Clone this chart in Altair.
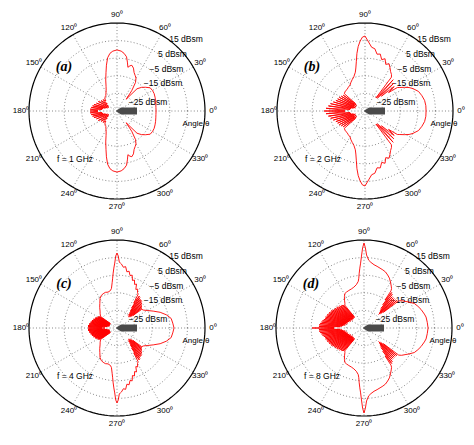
import altair as alt
import pandas as pd

# ---------------- data ----------------
panel_ids = ["a", "b", "c", "d"]
panel_tags = ["(a)", "(b)", "(c)", "(d)"]
freq_labels = ["f = 1 GHz", "f = 2 GHz", "f = 4 GHz", "f = 8 GHz"]

ring_db = [-25, -15, -5, 5, 15]
ring_labels = ["\u221225 dBsm", "\u221215 dBsm", "\u22125 dBsm", "5 dBsm", "15 dBsm"]

spoke_deg = [0, 30, 60, 90, 120, 150, 180, 210, 240, 270, 300, 330]
spoke_labels = ["0\u2070", "30\u2070", "60\u2070", "90\u2070", "120\u2070", "150\u2070",
                "180\u2070", "210\u2070", "240\u2070", "270\u2070", "300\u2070", "330\u2070"]

# RCS half patterns (0..180 deg), dBsm; lower half is the mirror image
a_theta = [0, 5, 10, 15, 20, 25, 30, 35, 40, 44, 48, 50, 52, 54, 57, 60, 63, 66, 69, 72, 74, 76, 78, 80, 83, 86,
           90, 94, 97, 100, 103, 106, 110, 114, 118, 122, 126, 130, 135,
           138, 141, 144, 147, 150, 153, 156, 159, 162, 164, 166, 168, 170, 172, 174, 176, 178, 180]
a_db = [-12.8, -12.8, -12.6, -12.3, -12.0, -11.7, -11.7, -12.0, -14.0, -15.7, -18.0, -23.6, -26.5, -20.8, -15.7,
        -13.4, -12.3, -11.1, -8.9, -7.7, -8.3, -9.4, -6.6, -3.75, -2.0, -0.9,
        -0.3, -0.9, -2.0, -4.3, -8.3, -12.3, -16.3, -19.7, -21.9, -23.1, -24.2, -24.5, -25.3,
        -26.5, -24.8, -28.2, -24.2, -29.3, -23.1, -29.9, -22.5, -29.3, -21.4, -28.2, -20.8, -27.0, -20.2,
        -26.5, -19.7, -24.2, -19.7]

b_theta = [0, 5, 10, 15, 20, 25, 28, 31, 34, 36, 38, 40, 42, 44, 46, 48, 50, 52, 54, 57, 60, 63, 66, 69, 72, 75,
           78, 81, 84, 87, 90, 92, 94, 96, 98, 100, 102, 104, 108, 112, 116, 120, 125, 130, 135, 140,
           142, 144, 146, 148, 150, 152, 154, 156, 158, 160, 162, 164, 166, 168, 170, 172, 174, 176, 178, 180]
b_db = [-0.3, -0.3, -0.6, -1.5, -2.6, -4.9, -6.6, -8.9, -11.1, -12.3, -18.0, -13.4, -22.5, -12.3, -24.8, -11.1,
        -25.3, -10.6, -9.4, -8.3, -6.6, -4.9, -6.0, -3.2, -4.3, -1.5,
        -2.0, 0.8, 1.4, 4.2, 7.6, 7.0, 4.8, 1.9, -2.0, -6.6, -10.0, -12.3, -14.5, -15.7, -16.8, -18.0, -18.5,
        -19.1, -19.1, -19.7,
        -28.2, -19.7, -29.3, -19.1, -28.2, -18.5, -29.3, -18.0, -28.2, -17.4, -29.3, -16.3, -28.2, -15.1,
        -27.0, -14.0, -26.5, -12.8, -23.6, -11.7]

c_theta = [0, 5, 10, 15, 20, 25, 30, 34, 37,
           38, 39, 40, 41, 42, 43, 44, 45, 46, 47, 48, 49, 50, 51, 52, 53, 54, 55, 56, 58,
           60, 62, 64, 66, 68, 70, 72, 74, 76, 78, 80, 82, 84, 86, 87, 88, 89, 90, 91, 92, 93, 94, 95, 96, 98,
           100, 104, 108, 112, 116, 120, 125, 130, 135, 140, 145,
           146, 147, 148, 149, 150, 151, 152, 153, 154, 155, 156, 157, 158, 159, 160, 161, 162, 163, 164, 165,
           166, 167, 168, 169, 170, 171, 172, 173, 174, 175, 176, 177, 178, 179, 180]
c_db = [-2.6, -3.2, -3.75, -6.0, -8.9, -12.3, -15.1, -16.8, -17.4,
        -23.6, -16.8, -24.8, -16.3, -25.3, -15.7, -25.9, -15.1, -24.8, -14.5, -25.3, -14.0, -23.6, -14.0,
        -22.5, -13.4, -20.8, -12.8, -18.0, -12.3,
        -11.7, -10.0, -10.6, -7.7, -8.3, -6.0, -6.6, -3.75, -4.3, -2.0, -2.6, 0.2, -0.3, 1.4, 1.9, 2.5, 5.9,
        7.6, 5.9, 1.9, -0.9, -3.75, -6.6, -8.9, -12.3,
        -13.4, -14.0, -13.7, -14.0, -14.5, -15.7, -18.0, -19.7, -21.4, -22.5, -23.6,
        -30.5, -23.1, -29.3, -22.5, -30.5, -22.5, -29.9, -21.9, -30.5, -21.4, -29.3, -21.4, -30.5, -20.8,
        -29.9, -20.8, -30.5, -20.2, -29.3, -20.2, -30.5, -19.7, -29.9, -19.7, -28.2, -19.1, -29.3, -19.1,
        -27.0, -18.5, -28.2, -18.5, -26.5, -19.1, -18.5]

d_theta = [0, 5, 10, 13, 18, 22, 26, 30, 33, 36, 38,
           39, 40, 41, 42, 43, 44, 45, 46, 47, 48, 49, 50, 51, 52, 53, 54, 55, 57,
           60, 63, 66, 69, 72, 75, 78, 81, 84, 86, 88, 89, 90, 91, 92, 93, 94, 95, 96, 97,
           100, 104, 108, 112, 116, 119, 122, 125, 128, 130,
           131, 132, 133, 134, 135, 136, 137, 138, 139, 140, 141, 142, 143, 144, 145, 146, 147, 148, 149, 150,
           151, 152, 153, 154, 155, 156, 157, 158, 159, 160, 161, 162, 163, 164, 165, 166, 167, 168, 169, 170,
           171, 172, 173, 174, 175, 176, 177, 178, 179, 180]
d_db = [1.4, 1.1, 0.8, 0.2, -0.9, -2.0, -3.2, -5.5, -7.2, -8.6, -10.0,
        -20.8, -10.6, -22.5, -11.1, -23.6, -11.1, -22.5, -11.1, -21.4, -11.1, -20.2, -10.0, -18.0, -9.4,
        -15.1, -8.9, -7.7, -6.6,
        -4.9, -3.2, -2.0, -0.9, -0.3, 0.2, 0.8, 1.4, 2.5, 3.6, 6.5, 10.5, 13.3, 10.5, 5.9, 1.9, -0.9, -3.75,
        -6.6, -8.3,
        -10.0, -11.1, -11.7, -12.0, -12.3, -12.6, -14.0, -15.7, -17.4, -18.0,
        -26.5, -17.4, -27.0, -16.8, -26.5, -16.8, -27.0, -16.3, -26.5, -16.3, -27.0, -15.7, -26.5, -15.7,
        -27.0, -15.1, -25.9, -15.1, -26.5, -14.5, -25.9, -14.0, -26.5, -14.0, -25.3, -13.4, -25.9, -13.4,
        -25.3, -12.8, -24.8, -12.8, -25.3, -12.3, -24.2, -12.3, -24.8, -11.7, -23.6, -11.1, -24.2, -10.6,
        -23.1, -10.0, -22.5, -9.4, -21.4, -9.4, -18.0, -5.5]

curves = {"a": (a_theta, a_db), "b": (b_theta, b_db), "c": (c_theta, c_db), "d": (d_theta, d_db)}

# ---------------- layout constants ----------------
R_PX = 88.0          # radius of outer ring (15 dBsm) in pixels
DB_CENTER = -35.0
DB_OUTER = 15.0
CX = "datum.panel === 'a' ? 117 : datum.panel === 'b' ? 365 : datum.panel === 'c' ? 117 : 364"
CY = "(datum.panel === 'a' || datum.panel === 'b') ? 111 : 328"
RR = f"max(0, (datum.db - ({DB_CENTER})) / {DB_OUTER - DB_CENTER} * {R_PX})"
PX = "datum.cx + datum.rr * cos(datum.theta * PI / 180)"
PY = "datum.cy - datum.rr * sin(datum.theta * PI / 180)"

XS = alt.X("x:Q", scale=alt.Scale(domain=[8, 466], nice=False, zero=False), axis=None)
YS = alt.Y("y:Q", scale=alt.Scale(domain=[8, 437], nice=False, zero=False, reverse=True), axis=None)

# ---------------- tables ----------------
rows = []
for p in panel_ids:
    th, db = curves[p]
    n = len(th)
    for i, (t, v) in enumerate(zip(th, db)):
        rows.append({"panel": p, "order": i, "theta": t, "db": v})
    for j, (t, v) in enumerate(zip(th[::-1], db[::-1])):
        rows.append({"panel": p, "order": n + j, "theta": 360 - t, "db": v})
curve_df = pd.DataFrame(rows)

ring_rows = []
for p in panel_ids:
    for rv in ring_db:
        for k, t in enumerate(range(0, 362, 2)):
            ring_rows.append({"panel": p, "key": f"{p}{rv}", "ring": rv, "order": k, "theta": t, "db": rv})
ring_df = pd.DataFrame(ring_rows)
dotted_df = ring_df[ring_df["ring"] < DB_OUTER]
outer_df = ring_df[ring_df["ring"] == DB_OUTER]

spoke_df = pd.DataFrame([{"panel": p, "theta": t} for p in panel_ids for t in spoke_deg])
alabel_df = pd.DataFrame([{"panel": p, "theta": t, "label": l}
                          for p in panel_ids for t, l in zip(spoke_deg, spoke_labels)])

ring_off = [(31, -9), (46, -28), (49.5, -42.5), (55.5, -57), (69, -72)]
rlabel_df = pd.DataFrame([{"panel": p, "label": l, "dx": o[0], "dy": o[1]}
                          for p in panel_ids for l, o in zip(ring_labels, ring_off)])
tag_df = pd.DataFrame({"panel": panel_ids, "label": panel_tags})
freq_df = pd.DataFrame({"panel": panel_ids, "label": freq_labels})
ang_df = pd.DataFrame({"panel": panel_ids, "label": ["Angle \u03b8"] * 4})

body_dx = [0, 4, 20]
body_h = [1.0, 3.5, 3.5]
body_df = pd.DataFrame([{"panel": p, "k": i, "dx": dx, "h": h}
                        for p in panel_ids for i, (dx, h) in enumerate(zip(body_dx, body_h))])

# ---------------- layers ----------------
dotted = alt.Chart(dotted_df).mark_line(color="#7a7a7a", strokeWidth=0.9, strokeDash=[1, 2.2]).transform_calculate(
    cx=CX, cy=CY, rr=RR, x=PX, y=PY).encode(x=XS, y=YS, detail="key:N", order="order:Q")

spokes = alt.Chart(spoke_df).mark_rule(color="#7a7a7a", strokeWidth=0.9, strokeDash=[1, 2.2]).transform_calculate(
    cx=CX, cy=CY,
    x="datum.cx", y="datum.cy",
    x2=f"datum.cx + {R_PX} * cos(datum.theta * PI / 180)",
    y2=f"datum.cy - {R_PX} * sin(datum.theta * PI / 180)").encode(x=XS, y=YS, x2="x2:Q", y2="y2:Q")

outer = alt.Chart(outer_df).mark_line(color="black", strokeWidth=1.2).transform_calculate(
    cx=CX, cy=CY, rr=RR, x=PX, y=PY).encode(x=XS, y=YS, detail="key:N", order="order:Q")

alabels = alt.Chart(alabel_df).mark_text(fontSize=8, font="Liberation Sans", color="black",
                                         align="center", baseline="middle").transform_calculate(
    cx=CX, cy=CY, rr="96", x=PX, y=PY).encode(x=XS, y=YS, text="label:N")

rlabels = alt.Chart(rlabel_df).mark_text(fontSize=8.5, font="Liberation Sans", color="black",
                                         align="center", baseline="middle").transform_calculate(
    cx=CX, cy=CY, x="datum.cx + datum.dx", y="datum.cy + datum.dy").encode(x=XS, y=YS, text="label:N")

curve = alt.Chart(curve_df).mark_line(color="#ff0000", strokeWidth=0.9).transform_calculate(
    cx=CX, cy=CY, rr=RR, x=PX, y=PY).encode(x=XS, y=YS, detail="panel:N", order="order:Q")

body = alt.Chart(body_df).mark_area(color="#4a4a4a").transform_calculate(
    cx=CX, cy=CY, x="datum.cx + datum.dx", y="datum.cy - datum.h", y2="datum.cy + datum.h").encode(
    x=XS, y=YS, y2="y2:Q", detail="panel:N")

tags = alt.Chart(tag_df).mark_text(fontSize=14, font="Liberation Serif", fontStyle="italic", fontWeight="bold",
                                   color="black", align="center", baseline="middle").transform_calculate(
    cx=CX, cy=CY, x="datum.cx - 53", y="datum.cy - 44").encode(x=XS, y=YS, text="label:N")

freqs = alt.Chart(freq_df).mark_text(fontSize=8.5, font="Liberation Sans", color="black",
                                     align="center", baseline="middle").transform_calculate(
    cx=CX, cy=CY, x="datum.cx - 42", y="datum.cy + 48").encode(x=XS, y=YS, text="label:N")

angs = alt.Chart(ang_df).mark_text(fontSize=8, font="Liberation Sans", color="black",
                                   align="center", baseline="middle").transform_calculate(
    cx=CX, cy=CY, x="datum.cx + 79", y="datum.cy + 13").encode(x=XS, y=YS, text="label:N")

chart = alt.layer(dotted, spokes, outer, alabels, rlabels, curve, body, tags, freqs, angs).properties(
    width=458, height=429, padding=0, autosize=alt.AutoSizeParams(type="none"), background="white"
).configure_view(strokeWidth=0)

chart.save("out.html", embed_options={"renderer": "svg", "actions": False})
